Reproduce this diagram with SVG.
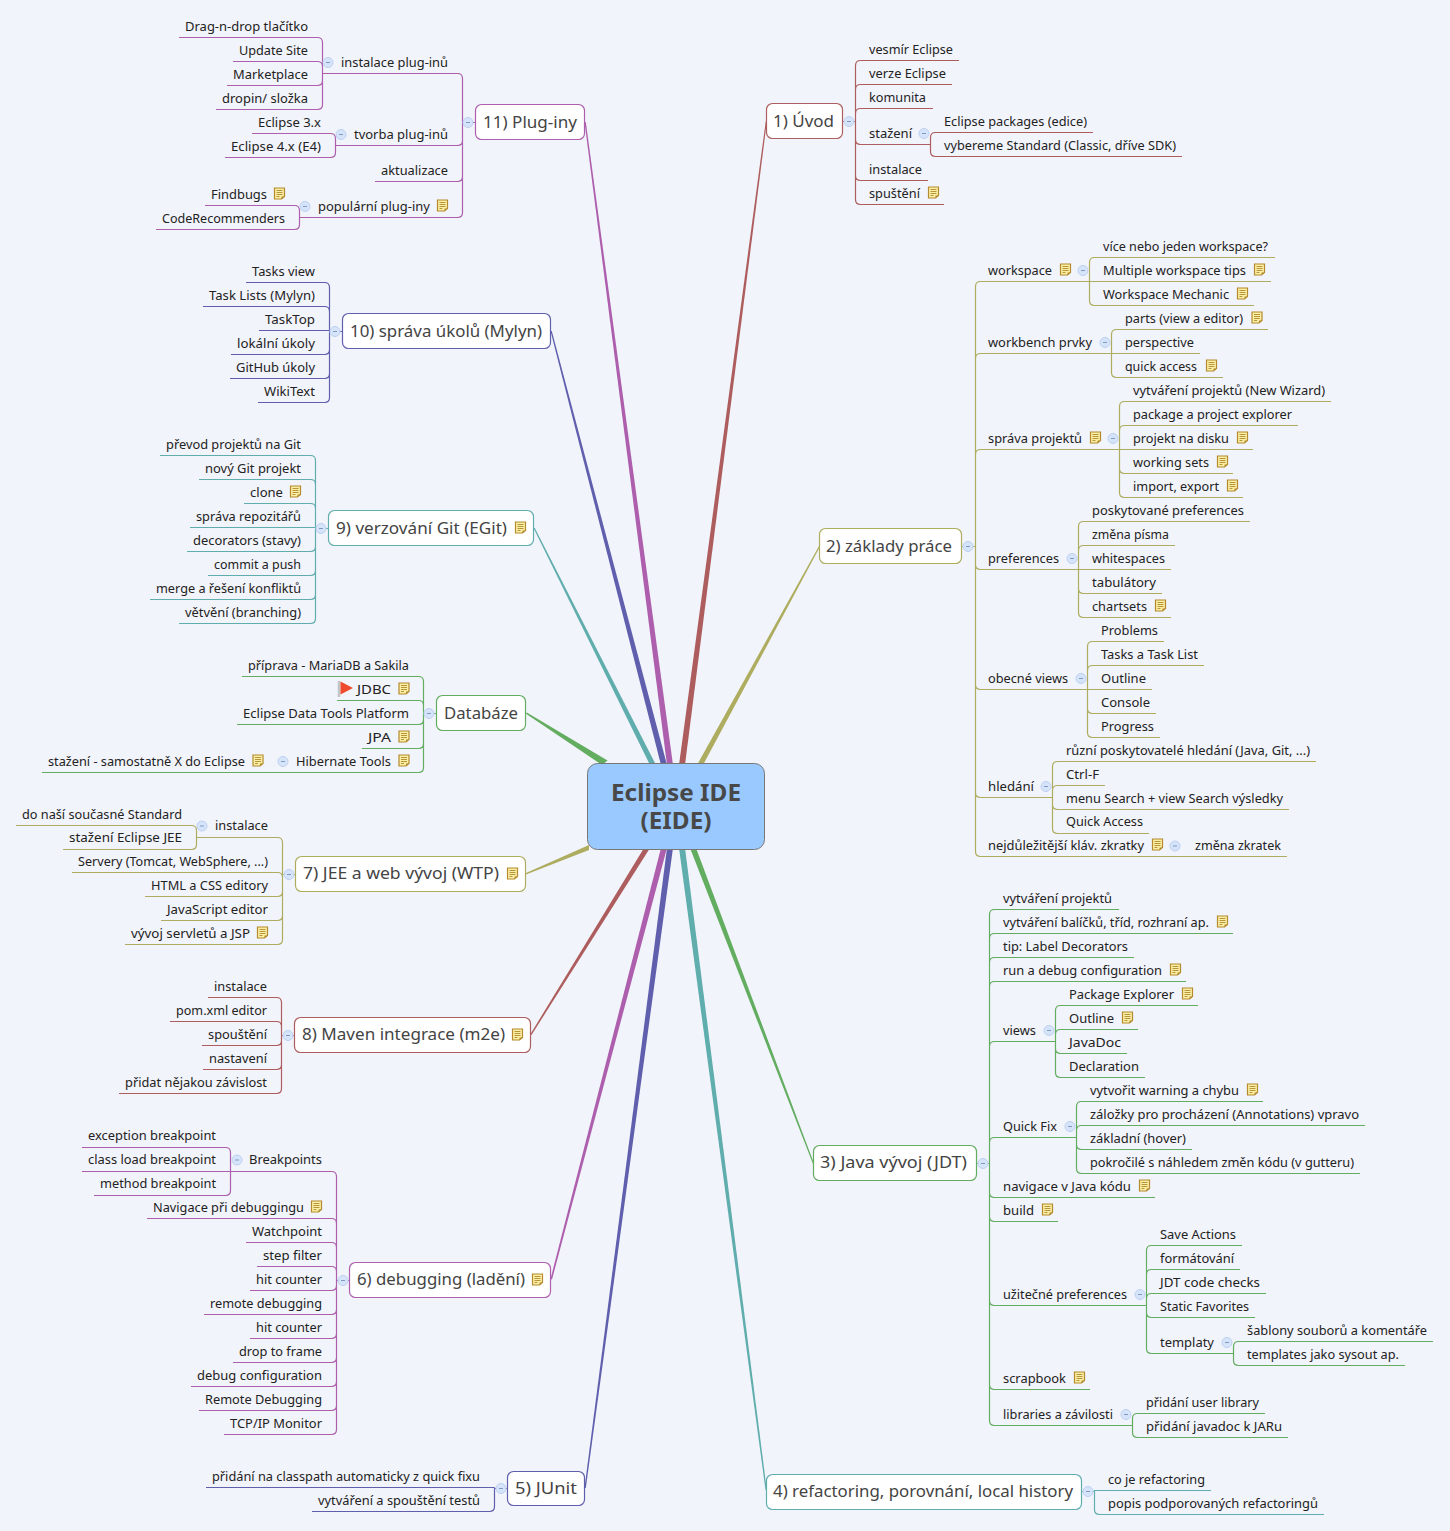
<svg xmlns="http://www.w3.org/2000/svg" width="1450" height="1531" viewBox="0 0 1450 1531">
<style>
text{font-family:"Noto Sans","Open Sans","DejaVu Sans",sans-serif;font-size:12.5px;fill:#222}
.h{font-size:17px;fill:#444}
.root{font-size:24px;font-weight:700;fill:#484848;text-anchor:middle}
.box{fill:#fff;stroke-width:1.2}
#connectors path{fill:none;stroke-width:1.2}
.red{stroke:#ad5d5d}.oli{stroke:#aead5f}.grn{stroke:#62ad5f}.tea{stroke:#5fadac}.ind{stroke:#5f5fad}.pur{stroke:#ad5fad}
.fred{fill:#ad5d5d}.foli{fill:#aead5f}.fgrn{fill:#62ad5f}.ftea{fill:#5fadac}.find{fill:#5f5fad}.fpur{fill:#ad5fad}
</style>
<defs>
<g id="note"><path d="M-5 -5.500H5V3L2 5.500H-5Z" fill="#fbeea5" stroke="#b48a2c" stroke-width="1.200"/><path d="M-3 -3H3M-3 -1H3M-3 1H3M-3 3H0" stroke="#b08a2c" stroke-width=".9" fill="none"/><path d="M2 5.500V3H5Z" fill="#b48a2c"/></g>
<g id="c"><circle r="5" fill="#d6e4fa" stroke="#bcd0f2"/><path d="M-2 0H2" stroke="#7f98c4"/></g>
</defs>
<rect width="1450" height="1531" fill="#f2f4fb"/>
<g id="connectors">
<polygon class="fred" points="679,765 685,765 766.8,122 765.800,121"/>
<polygon class="foli" points="697,765 703,765 819.800,547 819,546"/>
<polygon class="fpur" points="667,765 673,765 585.800,122 584.500,122"/>
<polygon class="find" points="661,765 667,765 551.800,331 550.500,331"/>
<polygon class="ftea" points="650,765 656,765 534.800,528 533.500,528"/>
<polygon class="fgrn" points="602,765 607.500,760.500 526.800,712.500 526,713.800"/>
<polygon class="foli" points="589,845 589,850 526,874.500 526,873"/>
<polygon class="fred" points="644,848 650,848 531.500,1035 530.500,1034"/>
<polygon class="fpur" points="661,848 667,848 552,1279.500 550.500,1279"/>
<polygon class="find" points="667,848 673,848 585.800,1488 584.500,1488"/>
<polygon class="ftea" points="679,848 685,848 766.800,1490 765.500,1490"/>
<polygon class="fgrn" points="690,848 696,848 813.800,1163 812.800,1163.500"/>
<g class="red">
<path d="M843 121.500H855.500M855.500 121.500V65.500Q855.500 60.500 860.500 60.500H959M855.500 121.500V89.500Q855.500 84.500 860.500 84.500H952M855.500 121.500V113.500Q855.500 108.500 860.500 108.500H933M855.500 121.500V139.500Q855.500 144.500 860.500 144.500H930.500M855.500 121.500V175.500Q855.500 180.500 860.500 180.500H928M855.500 121.500V199.500Q855.500 204.500 860.500 204.500H944"/>
<path d="M930.500 144.500V137.500Q930.500 132.500 935.500 132.500H1093M930.500 144.500V151.500Q930.500 156.500 935.500 156.500H1182"/>
<path d="M294 1035.500H281.500M281.500 1035.500V1002.500Q281.500 997.500 276.500 997.500H208M281.500 1035.500V1026.500Q281.500 1021.500 276.500 1021.500H170M281.500 1035.500V1040.500Q281.500 1045.500 276.500 1045.500H202M281.500 1035.500V1064.500Q281.500 1069.500 276.500 1069.500H203M281.500 1035.500V1088.500Q281.500 1093.500 276.500 1093.500H119"/>
</g>
<g class="oli">
<path d="M961 546.500H975.500M975.500 546.500V286.500Q975.500 281.500 980.500 281.500H1089.500M975.500 546.500V358.500Q975.500 353.500 980.500 353.500H1111.500M975.500 546.500V454.500Q975.500 449.500 980.500 449.500H1119.500M975.500 546.500V564.500Q975.500 569.500 980.500 569.500H1078.500M975.500 546.500V684.500Q975.500 689.500 980.500 689.500H1087.500M975.500 546.500V792.500Q975.500 797.500 980.500 797.500H1052.500M975.500 546.500V851.500Q975.500 856.500 980.500 856.500H1287"/>
<path d="M1089.500 281.500V262.500Q1089.500 257.500 1094.500 257.500H1275M1089.500 281.500H1271M1089.500 281.500V300.500Q1089.500 305.500 1094.500 305.500H1254"/>
<path d="M1111.500 353.500V334.500Q1111.500 329.500 1116.500 329.500H1268M1111.500 353.500H1200M1111.500 353.500V372.500Q1111.500 377.500 1116.500 377.500H1223"/>
<path d="M1119.500 449.500V406.500Q1119.500 401.500 1124.500 401.500H1331M1119.500 449.500V430.500Q1119.500 425.500 1124.500 425.500H1298M1119.500 449.500H1253M1119.500 449.500V468.500Q1119.500 473.500 1124.500 473.500H1233M1119.500 449.500V492.500Q1119.500 497.500 1124.500 497.500H1243"/>
<path d="M1078.500 569.500V526.500Q1078.500 521.500 1083.500 521.500H1250M1078.500 569.500V550.500Q1078.500 545.500 1083.500 545.500H1175M1078.500 569.500H1171M1078.500 569.500V588.500Q1078.500 593.500 1083.500 593.500H1162M1078.500 569.500V612.500Q1078.500 617.500 1083.500 617.500H1171"/>
<path d="M1087.500 689.500V646.500Q1087.500 641.500 1092.500 641.500H1164M1087.500 689.500V670.500Q1087.500 665.500 1092.500 665.500H1204M1087.500 689.500H1152M1087.500 689.500V708.500Q1087.500 713.500 1092.500 713.500H1156M1087.500 689.500V732.500Q1087.500 737.500 1092.500 737.500H1160"/>
<path d="M1052.500 797.500V766.500Q1052.500 761.500 1057.500 761.500H1316M1052.500 797.500V790.500Q1052.500 785.500 1057.500 785.500H1105M1052.500 797.500V804.500Q1052.500 809.500 1057.500 809.500H1289M1052.500 797.500V828.500Q1052.500 833.500 1057.500 833.500H1149"/>
<path d="M295 874.500H282.500M282.500 874.500V842.500Q282.500 837.500 277.500 837.500H196.500M282.500 874.500V877.500Q282.500 872.500 277.500 872.500H72M282.500 874.500V891.500Q282.500 896.500 277.500 896.500H145M282.500 874.500V915.500Q282.500 920.500 277.500 920.500H161M282.500 874.500V939.500Q282.500 944.500 277.500 944.500H125"/>
<path d="M196.500 837.500V830.500Q196.500 825.500 191.500 825.500H16M196.500 837.500V844.500Q196.500 849.500 191.500 849.500H63"/>
</g>
<g class="grn">
<path d="M977 1163.500H989.500M989.500 1163.500V914.500Q989.500 909.500 994.500 909.500H1119M989.500 1163.500V938.500Q989.500 933.500 994.500 933.500H1233M989.500 1163.500V962.500Q989.500 957.500 994.500 957.500H1134M989.500 1163.500V986.500Q989.500 981.500 994.500 981.500H1186M989.500 1163.500V1046.500Q989.500 1041.500 994.500 1041.500H1055.500M989.500 1163.500V1142.500Q989.500 1137.500 994.500 1137.500H1076.500M989.500 1163.500V1192.500Q989.500 1197.500 994.500 1197.500H1155M989.500 1163.500V1216.500Q989.500 1221.500 994.500 1221.500H1058M989.500 1163.500V1300.500Q989.500 1305.500 994.500 1305.500H1146.500M989.500 1163.500V1384.500Q989.500 1389.500 994.500 1389.500H1090M989.500 1163.500V1420.500Q989.500 1425.500 994.500 1425.500H1132.500"/>
<path d="M1055.500 1041.500V1010.500Q1055.500 1005.500 1060.500 1005.500H1198M1055.500 1041.500V1034.500Q1055.500 1029.500 1060.500 1029.500H1138M1055.500 1041.500V1048.500Q1055.500 1053.500 1060.500 1053.500H1127M1055.500 1041.500V1072.500Q1055.500 1077.500 1060.500 1077.500H1145"/>
<path d="M1076.500 1137.500V1106.500Q1076.500 1101.500 1081.500 1101.500H1263M1076.500 1137.500V1130.500Q1076.500 1125.500 1081.500 1125.500H1365M1076.500 1137.500V1144.500Q1076.500 1149.500 1081.500 1149.500H1192M1076.500 1137.500V1168.500Q1076.500 1173.500 1081.500 1173.500H1360"/>
<path d="M1146.500 1305.500V1250.500Q1146.500 1245.500 1151.500 1245.500H1242M1146.500 1305.500V1274.500Q1146.500 1269.500 1151.500 1269.500H1240M1146.500 1305.500V1298.500Q1146.500 1293.500 1151.500 1293.500H1266M1146.500 1305.500V1312.500Q1146.500 1317.500 1151.500 1317.500H1255M1146.500 1305.500V1348.500Q1146.500 1353.500 1151.500 1353.500H1233.500"/>
<path d="M1233.500 1353.500V1346.500Q1233.500 1341.500 1238.500 1341.500H1433M1233.500 1353.500V1360.500Q1233.500 1365.500 1238.500 1365.500H1405"/>
<path d="M1132.500 1425.500V1418.500Q1132.500 1413.500 1137.500 1413.500H1265M1132.500 1425.500V1432.500Q1132.500 1437.500 1137.500 1437.500H1288"/>
<path d="M436 713.500H423.500M423.500 713.500V681.500Q423.500 676.500 418.500 676.500H242M423.500 713.500V705.500Q423.500 700.500 418.500 700.500H337M423.500 713.500V719.500Q423.500 724.500 418.500 724.500H237M423.500 713.500V743.500Q423.500 748.500 418.500 748.500H362M423.500 713.500V767.500Q423.500 772.500 418.500 772.500H42"/>
</g>
<g class="tea">
<path d="M1082 1491.500H1094.500M1094.500 1491.500V1490.500H1211M1094.500 1491.500V1509.500Q1094.500 1514.500 1099.500 1514.500H1324"/>
<path d="M328 528.500H315.500M315.500 528.500V460.500Q315.500 455.500 310.500 455.500H160M315.500 528.500V484.500Q315.500 479.500 310.500 479.500H199M315.500 528.500V508.500Q315.500 503.500 310.500 503.500H244M315.500 527.500H190M315.500 528.500V546.500Q315.500 551.500 310.500 551.500H187M315.500 528.500V570.500Q315.500 575.500 310.500 575.500H208M315.500 528.500V594.500Q315.500 599.500 310.500 599.500H150M315.500 528.500V618.500Q315.500 623.500 310.500 623.500H179"/>
</g>
<g class="ind">
<path d="M507 1488.500H494.500M494.500 1487.500H206M494.500 1487.500V1506.500Q494.500 1511.500 489.500 1511.500H312"/>
<path d="M342 331.500H329.500M329.500 331.500V287.500Q329.500 282.500 324.500 282.500H246M329.500 331.500V311.500Q329.500 306.500 324.500 306.500H203M329.500 330.500H259M329.500 331.500V349.500Q329.500 354.500 324.500 354.500H231M329.500 331.500V373.500Q329.500 378.500 324.500 378.500H230M329.500 331.500V397.500Q329.500 402.500 324.500 402.500H258"/>
</g>
<g class="pur">
<path d="M349 1280.500H336.500M336.500 1280.500V1176.500Q336.500 1171.500 331.500 1171.500H230.500M336.500 1280.500V1223.500Q336.500 1218.500 331.500 1218.500H147M336.500 1280.500V1247.500Q336.500 1242.500 331.500 1242.500H246M336.500 1280.500V1271.500Q336.500 1266.500 331.500 1266.500H257M336.500 1280.500V1285.500Q336.500 1290.500 331.500 1290.500H250M336.500 1280.500V1309.500Q336.500 1314.500 331.500 1314.500H204M336.500 1280.500V1333.500Q336.500 1338.500 331.500 1338.500H250M336.500 1280.500V1357.500Q336.500 1362.500 331.500 1362.500H233M336.500 1280.500V1381.500Q336.500 1386.500 331.500 1386.500H191M336.500 1280.500V1405.500Q336.500 1410.500 331.500 1410.500H199M336.500 1280.500V1429.500Q336.500 1434.500 331.500 1434.500H224"/>
<path d="M230.500 1171.500V1152.500Q230.500 1147.500 225.500 1147.500H82M230.500 1171.500H82M230.500 1171.500V1190.500Q230.500 1195.500 225.500 1195.500H94"/>
<path d="M475 122.500H462.500M462.500 122.500V78.500Q462.500 73.500 457.500 73.500H322.500M462.500 122.500V140.500Q462.500 145.500 457.500 145.500H335.500M462.500 122.500V176.500Q462.500 181.500 457.500 181.500H375M462.500 122.500V212.500Q462.500 217.500 457.500 217.500H299.500"/>
<path d="M322.500 73.500V42.500Q322.500 37.500 317.500 37.500H179M322.500 73.500V66.500Q322.500 61.500 317.500 61.500H233M322.500 73.500V80.500Q322.500 85.500 317.500 85.500H227M322.500 73.500V104.500Q322.500 109.500 317.500 109.500H216"/>
<path d="M335.500 145.500V138.500Q335.500 133.500 330.500 133.500H252M335.500 145.500V152.500Q335.500 157.500 330.500 157.500H225"/>
<path d="M299.500 217.500V210.500Q299.500 205.500 294.500 205.500H205M299.500 217.500V224.500Q299.500 229.500 294.500 229.500H156"/>
</g>
</g>
<g id="root"><rect x="587.500" y="763.500" width="177" height="86" rx="10" fill="#99c9ff" stroke="#777"/><text class="root"><tspan x="676" y="801" textLength="130" lengthAdjust="spacingAndGlyphs">Eclipse IDE</tspan><tspan x="676" y="829" textLength="71" lengthAdjust="spacingAndGlyphs">(EIDE)</tspan></text></g>
<g id="n1"><rect class="box red" x="766.500" y="103.500" width="76" height="35" rx="6"/><text class="h" x="773" y="127" textLength="61" lengthAdjust="spacingAndGlyphs">1) Úvod</text><use href="#c" x="849" y="121.500"/></g>
<g id="n1a"><text x="869" y="54" textLength="84" lengthAdjust="spacingAndGlyphs">vesmír Eclipse</text></g>
<g id="n1b"><text x="869" y="78" textLength="77" lengthAdjust="spacingAndGlyphs">verze Eclipse</text></g>
<g id="n1c"><text x="869" y="102" textLength="57" lengthAdjust="spacingAndGlyphs">komunita</text></g>
<g id="n1d"><text x="869" y="138" textLength="43" lengthAdjust="spacingAndGlyphs">stažení</text><use href="#c" x="924" y="133.500"/></g>
<g id="n1d1"><text x="944" y="126" textLength="143" lengthAdjust="spacingAndGlyphs">Eclipse packages (edice)</text></g>
<g id="n1d2"><text x="944" y="150" textLength="232" lengthAdjust="spacingAndGlyphs">vybereme Standard (Classic, dříve SDK)</text></g>
<g id="n1e"><text x="869" y="174" textLength="53" lengthAdjust="spacingAndGlyphs">instalace</text></g>
<g id="n1f"><text x="869" y="198" textLength="51" lengthAdjust="spacingAndGlyphs">spuštění</text><use href="#note" x="933.500" y="192.500"/></g>
<g id="n2"><rect class="box oli" x="819.500" y="528.500" width="142" height="35" rx="6"/><text class="h" x="826" y="552" textLength="126" lengthAdjust="spacingAndGlyphs">2) základy práce</text><use href="#c" x="968" y="546.500"/></g>
<g id="n2a"><text x="988" y="275" textLength="64" lengthAdjust="spacingAndGlyphs">workspace</text><use href="#note" x="1065.500" y="269.500"/><use href="#c" x="1083" y="270.500"/></g>
<g id="n2a1"><text x="1103" y="251" textLength="165" lengthAdjust="spacingAndGlyphs">více nebo jeden workspace?</text></g>
<g id="n2a2"><text x="1103" y="275" textLength="143" lengthAdjust="spacingAndGlyphs">Multiple workspace tips</text><use href="#note" x="1259.500" y="269.500"/></g>
<g id="n2a3"><text x="1103" y="299" textLength="126" lengthAdjust="spacingAndGlyphs">Workspace Mechanic</text><use href="#note" x="1242.500" y="293.500"/></g>
<g id="n2b"><text x="988" y="347" textLength="104" lengthAdjust="spacingAndGlyphs">workbench prvky</text><use href="#c" x="1105" y="342.500"/></g>
<g id="n2b1"><text x="1125" y="323" textLength="118" lengthAdjust="spacingAndGlyphs">parts (view a editor)</text><use href="#note" x="1257" y="317.500"/></g>
<g id="n2b2"><text x="1125" y="347" textLength="69" lengthAdjust="spacingAndGlyphs">perspective</text></g>
<g id="n2b3"><text x="1125" y="371" textLength="72" lengthAdjust="spacingAndGlyphs">quick access</text><use href="#note" x="1211.500" y="365.500"/></g>
<g id="n2c"><text x="988" y="443" textLength="94" lengthAdjust="spacingAndGlyphs">správa projektů</text><use href="#note" x="1095.500" y="437.500"/><use href="#c" x="1113" y="438.500"/></g>
<g id="n2c1"><text x="1133" y="395" textLength="192" lengthAdjust="spacingAndGlyphs">vytváření projektů (New Wizard)</text></g>
<g id="n2c2"><text x="1133" y="419" textLength="159" lengthAdjust="spacingAndGlyphs">package a project explorer</text></g>
<g id="n2c3"><text x="1133" y="443" textLength="96" lengthAdjust="spacingAndGlyphs">projekt na disku</text><use href="#note" x="1242.500" y="437.500"/></g>
<g id="n2c4"><text x="1133" y="467" textLength="76" lengthAdjust="spacingAndGlyphs">working sets</text><use href="#note" x="1222.500" y="461.500"/></g>
<g id="n2c5"><text x="1133" y="491" textLength="86" lengthAdjust="spacingAndGlyphs">import, export</text><use href="#note" x="1232.500" y="485.500"/></g>
<g id="n2d"><text x="988" y="563" textLength="71" lengthAdjust="spacingAndGlyphs">preferences</text><use href="#c" x="1072" y="558.500"/></g>
<g id="n2d1"><text x="1092" y="515" textLength="152" lengthAdjust="spacingAndGlyphs">poskytované preferences</text></g>
<g id="n2d2"><text x="1092" y="539" textLength="77" lengthAdjust="spacingAndGlyphs">změna písma</text></g>
<g id="n2d3"><text x="1092" y="563" textLength="73" lengthAdjust="spacingAndGlyphs">whitespaces</text></g>
<g id="n2d4"><text x="1092" y="587" textLength="64" lengthAdjust="spacingAndGlyphs">tabulátory</text></g>
<g id="n2d5"><text x="1092" y="611" textLength="55" lengthAdjust="spacingAndGlyphs">chartsets</text><use href="#note" x="1160.500" y="605.500"/></g>
<g id="n2e"><text x="988" y="683" textLength="80" lengthAdjust="spacingAndGlyphs">obecné views</text><use href="#c" x="1081" y="678.500"/></g>
<g id="n2e1"><text x="1101" y="635" textLength="57" lengthAdjust="spacingAndGlyphs">Problems</text></g>
<g id="n2e2"><text x="1101" y="659" textLength="97" lengthAdjust="spacingAndGlyphs">Tasks a Task List</text></g>
<g id="n2e3"><text x="1101" y="683" textLength="45" lengthAdjust="spacingAndGlyphs">Outline</text></g>
<g id="n2e4"><text x="1101" y="707" textLength="49" lengthAdjust="spacingAndGlyphs">Console</text></g>
<g id="n2e5"><text x="1101" y="731" textLength="53" lengthAdjust="spacingAndGlyphs">Progress</text></g>
<g id="n2f"><text x="988" y="791" textLength="46" lengthAdjust="spacingAndGlyphs">hledání</text><use href="#c" x="1046" y="786.500"/></g>
<g id="n2f1"><text x="1066" y="755" textLength="244" lengthAdjust="spacingAndGlyphs">různí poskytovatelé hledání (Java, Git, ...)</text></g>
<g id="n2f2"><text x="1066" y="779" textLength="33" lengthAdjust="spacingAndGlyphs">Ctrl-F</text></g>
<g id="n2f3"><text x="1066" y="803" textLength="217" lengthAdjust="spacingAndGlyphs">menu Search + view Search výsledky</text></g>
<g id="n2f4"><text x="1066" y="826" textLength="77" lengthAdjust="spacingAndGlyphs">Quick Access</text></g>
<g id="n2g"><text x="988" y="850" textLength="156" lengthAdjust="spacingAndGlyphs">nejdůležitější kláv. zkratky</text><use href="#note" x="1157.500" y="844.500"/><use href="#c" x="1175" y="846"/></g>
<g id="n2g1"><text x="1195" y="850" textLength="86" lengthAdjust="spacingAndGlyphs">změna zkratek</text></g>
<g id="n3"><rect class="box grn" x="813.500" y="1145.500" width="163" height="35" rx="6"/><text class="h" x="820" y="1168" textLength="147" lengthAdjust="spacingAndGlyphs">3) Java vývoj (JDT)</text><use href="#c" x="983" y="1163.500"/></g>
<g id="n3a"><text x="1003" y="903" textLength="109" lengthAdjust="spacingAndGlyphs">vytváření projektů</text></g>
<g id="n3b"><text x="1003" y="927" textLength="206" lengthAdjust="spacingAndGlyphs">vytváření balíčků, tříd, rozhraní ap.</text><use href="#note" x="1222.500" y="921.500"/></g>
<g id="n3c"><text x="1003" y="951" textLength="125" lengthAdjust="spacingAndGlyphs">tip: Label Decorators</text></g>
<g id="n3d"><text x="1003" y="975" textLength="159" lengthAdjust="spacingAndGlyphs">run a debug configuration</text><use href="#note" x="1175.500" y="969.500"/></g>
<g id="n3e"><text x="1003" y="1035" textLength="33" lengthAdjust="spacingAndGlyphs">views</text><use href="#c" x="1049" y="1030.500"/></g>
<g id="n3e1"><text x="1069" y="999" textLength="105" lengthAdjust="spacingAndGlyphs">Package Explorer</text><use href="#note" x="1187.500" y="993.500"/></g>
<g id="n3e2"><text x="1069" y="1023" textLength="45" lengthAdjust="spacingAndGlyphs">Outline</text><use href="#note" x="1127.500" y="1017.500"/></g>
<g id="n3e3"><text x="1069" y="1047" textLength="52" lengthAdjust="spacingAndGlyphs">JavaDoc</text></g>
<g id="n3e4"><text x="1069" y="1071" textLength="70" lengthAdjust="spacingAndGlyphs">Declaration</text></g>
<g id="n3f"><text x="1003" y="1131" textLength="54" lengthAdjust="spacingAndGlyphs">Quick Fix</text><use href="#c" x="1070" y="1126.500"/></g>
<g id="n3f1"><text x="1090" y="1095" textLength="149" lengthAdjust="spacingAndGlyphs">vytvořit warning a chybu</text><use href="#note" x="1252.500" y="1089.500"/></g>
<g id="n3f2"><text x="1090" y="1119" textLength="269" lengthAdjust="spacingAndGlyphs">záložky pro procházení (Annotations) vpravo</text></g>
<g id="n3f3"><text x="1090" y="1143" textLength="96" lengthAdjust="spacingAndGlyphs">základní (hover)</text></g>
<g id="n3f4"><text x="1090" y="1167" textLength="264" lengthAdjust="spacingAndGlyphs">pokročilé s náhledem změn kódu (v gutteru)</text></g>
<g id="n3g"><text x="1003" y="1191" textLength="128" lengthAdjust="spacingAndGlyphs">navigace v Java kódu</text><use href="#note" x="1144.500" y="1185.500"/></g>
<g id="n3h"><text x="1003" y="1215" textLength="31" lengthAdjust="spacingAndGlyphs">build</text><use href="#note" x="1047.500" y="1209.500"/></g>
<g id="n3i"><text x="1003" y="1299" textLength="124" lengthAdjust="spacingAndGlyphs">užitečné preferences</text><use href="#c" x="1140" y="1294.500"/></g>
<g id="n3i1"><text x="1160" y="1239" textLength="76" lengthAdjust="spacingAndGlyphs">Save Actions</text></g>
<g id="n3i2"><text x="1160" y="1263" textLength="74" lengthAdjust="spacingAndGlyphs">formátování</text></g>
<g id="n3i3"><text x="1160" y="1287" textLength="100" lengthAdjust="spacingAndGlyphs">JDT code checks</text></g>
<g id="n3i4"><text x="1160" y="1311" textLength="89" lengthAdjust="spacingAndGlyphs">Static Favorites</text></g>
<g id="n3i5"><text x="1160" y="1347" textLength="54" lengthAdjust="spacingAndGlyphs">templaty</text><use href="#c" x="1227" y="1342.500"/></g>
<g id="n3i5a"><text x="1247" y="1335" textLength="180" lengthAdjust="spacingAndGlyphs">šablony souborů a komentáře</text></g>
<g id="n3i5b"><text x="1247" y="1359" textLength="152" lengthAdjust="spacingAndGlyphs">templates jako sysout ap.</text></g>
<g id="n3j"><text x="1003" y="1383" textLength="63" lengthAdjust="spacingAndGlyphs">scrapbook</text><use href="#note" x="1079.500" y="1377.500"/></g>
<g id="n3k"><text x="1003" y="1419" textLength="110" lengthAdjust="spacingAndGlyphs">libraries a závilosti</text><use href="#c" x="1126" y="1414.500"/></g>
<g id="n3k1"><text x="1146" y="1407" textLength="113" lengthAdjust="spacingAndGlyphs">přidání user library</text></g>
<g id="n3k2"><text x="1146" y="1431" textLength="136" lengthAdjust="spacingAndGlyphs">přidání javadoc k JARu</text></g>
<g id="n4"><rect class="box tea" x="766.500" y="1474.500" width="315" height="35" rx="6"/><text class="h" x="773" y="1497" textLength="300" lengthAdjust="spacingAndGlyphs">4) refactoring, porovnání, local history</text><use href="#c" x="1088" y="1491.500"/></g>
<g id="n4a"><text x="1108" y="1484" textLength="97" lengthAdjust="spacingAndGlyphs">co je refactoring</text></g>
<g id="n4b"><text x="1108" y="1508" textLength="210" lengthAdjust="spacingAndGlyphs">popis podporovaných refactoringů</text></g>
<g id="n5"><rect class="box ind" x="507.500" y="1471.500" width="77" height="34" rx="6"/><text class="h" x="515" y="1494" textLength="62" lengthAdjust="spacingAndGlyphs">5) JUnit</text><use href="#c" x="501" y="1488.500"/></g>
<g id="n5a"><text x="212" y="1481" textLength="268" lengthAdjust="spacingAndGlyphs">přidání na classpath automaticky z quick fixu</text></g>
<g id="n5b"><text x="318" y="1505" textLength="162" lengthAdjust="spacingAndGlyphs">vytváření a spouštění testů</text></g>
<g id="n6"><rect class="box pur" x="349.500" y="1262.500" width="201" height="35" rx="6"/><text class="h" x="357" y="1285" textLength="168" lengthAdjust="spacingAndGlyphs">6) debugging (ladění)</text><use href="#note" x="537.500" y="1279.500"/><use href="#c" x="343" y="1280.500"/></g>
<g id="n6a"><text x="249" y="1164" textLength="73" lengthAdjust="spacingAndGlyphs">Breakpoints</text><use href="#c" x="237" y="1160"/></g>
<g id="n6a1"><text x="88" y="1140" textLength="128" lengthAdjust="spacingAndGlyphs">exception breakpoint</text></g>
<g id="n6a2"><text x="88" y="1164" textLength="128" lengthAdjust="spacingAndGlyphs">class load breakpoint</text></g>
<g id="n6a3"><text x="100" y="1188" textLength="116" lengthAdjust="spacingAndGlyphs">method breakpoint</text></g>
<g id="n6b"><text x="153" y="1212" textLength="151" lengthAdjust="spacingAndGlyphs">Navigace při debuggingu</text><use href="#note" x="316.500" y="1206.500"/></g>
<g id="n6c"><text x="252" y="1236" textLength="70" lengthAdjust="spacingAndGlyphs">Watchpoint</text></g>
<g id="n6d"><text x="263" y="1260" textLength="59" lengthAdjust="spacingAndGlyphs">step filter</text></g>
<g id="n6e"><text x="256" y="1284" textLength="66" lengthAdjust="spacingAndGlyphs">hit counter</text></g>
<g id="n6f"><text x="210" y="1308" textLength="112" lengthAdjust="spacingAndGlyphs">remote debugging</text></g>
<g id="n6g"><text x="256" y="1332" textLength="66" lengthAdjust="spacingAndGlyphs">hit counter</text></g>
<g id="n6h"><text x="239" y="1356" textLength="83" lengthAdjust="spacingAndGlyphs">drop to frame</text></g>
<g id="n6i"><text x="197" y="1380" textLength="125" lengthAdjust="spacingAndGlyphs">debug configuration</text></g>
<g id="n6j"><text x="205" y="1404" textLength="117" lengthAdjust="spacingAndGlyphs">Remote Debugging</text></g>
<g id="n6k"><text x="230" y="1428" textLength="92" lengthAdjust="spacingAndGlyphs">TCP/IP Monitor</text></g>
<g id="n7"><rect class="box oli" x="295.500" y="856.500" width="230" height="35" rx="6"/><text class="h" x="303" y="879" textLength="196" lengthAdjust="spacingAndGlyphs">7) JEE a web vývoj (WTP)</text><use href="#note" x="512.500" y="873.500"/><use href="#c" x="289" y="874.500"/></g>
<g id="n7a"><text x="215" y="830" textLength="53" lengthAdjust="spacingAndGlyphs">instalace</text><use href="#c" x="202" y="826"/></g>
<g id="n7a1"><text x="22" y="819" textLength="160" lengthAdjust="spacingAndGlyphs">do naší současné Standard</text></g>
<g id="n7a2"><text x="69" y="842" textLength="113" lengthAdjust="spacingAndGlyphs">stažení Eclipse JEE</text></g>
<g id="n7b"><text x="78" y="866" textLength="190" lengthAdjust="spacingAndGlyphs">Servery (Tomcat, WebSphere, ...)</text></g>
<g id="n7c"><text x="151" y="890" textLength="117" lengthAdjust="spacingAndGlyphs">HTML a CSS editory</text></g>
<g id="n7d"><text x="167" y="914" textLength="101" lengthAdjust="spacingAndGlyphs">JavaScript editor</text></g>
<g id="n7e"><text x="131" y="938" textLength="119" lengthAdjust="spacingAndGlyphs">vývoj servletů a JSP</text><use href="#note" x="262.500" y="932.500"/></g>
<g id="n8"><rect class="box red" x="294.500" y="1017.500" width="236" height="35" rx="6"/><text class="h" x="302" y="1040" textLength="203" lengthAdjust="spacingAndGlyphs">8) Maven integrace (m2e)</text><use href="#note" x="517.500" y="1034.500"/><use href="#c" x="288" y="1035.500"/></g>
<g id="n8a"><text x="214" y="991" textLength="53" lengthAdjust="spacingAndGlyphs">instalace</text></g>
<g id="n8b"><text x="176" y="1015" textLength="91" lengthAdjust="spacingAndGlyphs">pom.xml editor</text></g>
<g id="n8c"><text x="208" y="1039" textLength="59" lengthAdjust="spacingAndGlyphs">spouštění</text></g>
<g id="n8d"><text x="209" y="1063" textLength="58" lengthAdjust="spacingAndGlyphs">nastavení</text></g>
<g id="n8e"><text x="125" y="1087" textLength="142" lengthAdjust="spacingAndGlyphs">přidat nějakou závislost</text></g>
<g id="db"><rect class="box grn" x="436.500" y="695.500" width="89" height="35" rx="6"/><text class="h" x="444" y="719" textLength="74" lengthAdjust="spacingAndGlyphs">Databáze</text><use href="#c" x="429" y="713.500"/></g>
<g id="db1"><text x="248" y="670" textLength="161" lengthAdjust="spacingAndGlyphs">příprava - MariaDB a Sakila</text></g>
<g id="db2"><path d="M339 681V697" stroke="#c4c4c4" stroke-width="2.500"/><path d="M340.500 681.500L353 688L340.500 694.500Z" fill="#ee4a2d"/><text x="357" y="694" textLength="34" lengthAdjust="spacingAndGlyphs">JDBC</text><use href="#note" x="404" y="688.500"/></g>
<g id="db3"><text x="243" y="718" textLength="166" lengthAdjust="spacingAndGlyphs">Eclipse Data Tools Platform</text></g>
<g id="db4"><text x="368" y="742" textLength="23" lengthAdjust="spacingAndGlyphs">JPA</text><use href="#note" x="404" y="736.500"/></g>
<g id="db5"><text x="296" y="766" textLength="95" lengthAdjust="spacingAndGlyphs">Hibernate Tools</text><use href="#note" x="404" y="760.500"/><use href="#c" x="283" y="761.500"/></g>
<g id="db5a"><text x="48" y="766" textLength="197" lengthAdjust="spacingAndGlyphs">stažení - samostatně X do Eclipse</text><use href="#note" x="258" y="760.500"/></g>
<g id="n9"><rect class="box tea" x="328.500" y="510.500" width="205" height="35" rx="6"/><text class="h" x="336" y="534" textLength="171" lengthAdjust="spacingAndGlyphs">9) verzování Git (EGit)</text><use href="#note" x="520.500" y="527.500"/><use href="#c" x="321" y="528.500"/></g>
<g id="n9a"><text x="166" y="449" textLength="135" lengthAdjust="spacingAndGlyphs">převod projektů na Git</text></g>
<g id="n9b"><text x="205" y="473" textLength="96" lengthAdjust="spacingAndGlyphs">nový Git projekt</text></g>
<g id="n9c"><text x="250" y="497" textLength="33" lengthAdjust="spacingAndGlyphs">clone</text><use href="#note" x="295.500" y="491.500"/></g>
<g id="n9d"><text x="196" y="521" textLength="105" lengthAdjust="spacingAndGlyphs">správa repozitářů</text></g>
<g id="n9e"><text x="193" y="545" textLength="108" lengthAdjust="spacingAndGlyphs">decorators (stavy)</text></g>
<g id="n9f"><text x="214" y="569" textLength="87" lengthAdjust="spacingAndGlyphs">commit a push</text></g>
<g id="n9g"><text x="156" y="593" textLength="145" lengthAdjust="spacingAndGlyphs">merge a řešení konfliktů</text></g>
<g id="n9h"><text x="185" y="617" textLength="116" lengthAdjust="spacingAndGlyphs">větvění (branching)</text></g>
<g id="n10"><rect class="box ind" x="342.500" y="313.500" width="208" height="35" rx="6"/><text class="h" x="350" y="337" textLength="192" lengthAdjust="spacingAndGlyphs">10) správa úkolů (Mylyn)</text><use href="#c" x="335" y="331.500"/></g>
<g id="n10a"><text x="252" y="276" textLength="63" lengthAdjust="spacingAndGlyphs">Tasks view</text></g>
<g id="n10b"><text x="209" y="300" textLength="106" lengthAdjust="spacingAndGlyphs">Task Lists (Mylyn)</text></g>
<g id="n10c"><text x="265" y="324" textLength="50" lengthAdjust="spacingAndGlyphs">TaskTop</text></g>
<g id="n10d"><text x="237" y="348" textLength="78" lengthAdjust="spacingAndGlyphs">lokální úkoly</text></g>
<g id="n10e"><text x="236" y="372" textLength="79" lengthAdjust="spacingAndGlyphs">GitHub úkoly</text></g>
<g id="n10f"><text x="264" y="396" textLength="51" lengthAdjust="spacingAndGlyphs">WikiText</text></g>
<g id="n11"><rect class="box pur" x="475.500" y="104.500" width="109" height="35" rx="6"/><text class="h" x="483" y="128" textLength="94" lengthAdjust="spacingAndGlyphs">11) Plug-iny</text><use href="#c" x="468" y="122.500"/></g>
<g id="n11a"><text x="341" y="67" textLength="107" lengthAdjust="spacingAndGlyphs">instalace plug-inů</text><use href="#c" x="328" y="62.500"/></g>
<g id="n11a1"><text x="185" y="31" textLength="123" lengthAdjust="spacingAndGlyphs">Drag-n-drop tlačítko</text></g>
<g id="n11a2"><text x="239" y="55" textLength="69" lengthAdjust="spacingAndGlyphs">Update Site</text></g>
<g id="n11a3"><text x="233" y="79" textLength="75" lengthAdjust="spacingAndGlyphs">Marketplace</text></g>
<g id="n11a4"><text x="222" y="103" textLength="86" lengthAdjust="spacingAndGlyphs">dropin/ složka</text></g>
<g id="n11b"><text x="354" y="139" textLength="94" lengthAdjust="spacingAndGlyphs">tvorba plug-inů</text><use href="#c" x="341" y="134.500"/></g>
<g id="n11b1"><text x="258" y="127" textLength="63" lengthAdjust="spacingAndGlyphs">Eclipse 3.x</text></g>
<g id="n11b2"><text x="231" y="151" textLength="90" lengthAdjust="spacingAndGlyphs">Eclipse 4.x (E4)</text></g>
<g id="n11c"><text x="381" y="175" textLength="67" lengthAdjust="spacingAndGlyphs">aktualizace</text></g>
<g id="n11d"><text x="318" y="211" textLength="112" lengthAdjust="spacingAndGlyphs">populární plug-iny</text><use href="#note" x="442.500" y="205.500"/><use href="#c" x="305" y="206.500"/></g>
<g id="n11d1"><text x="211" y="199" textLength="56" lengthAdjust="spacingAndGlyphs">Findbugs</text><use href="#note" x="279.500" y="193.500"/></g>
<g id="n11d2"><text x="162" y="223" textLength="123" lengthAdjust="spacingAndGlyphs">CodeRecommenders</text></g>
</svg>
